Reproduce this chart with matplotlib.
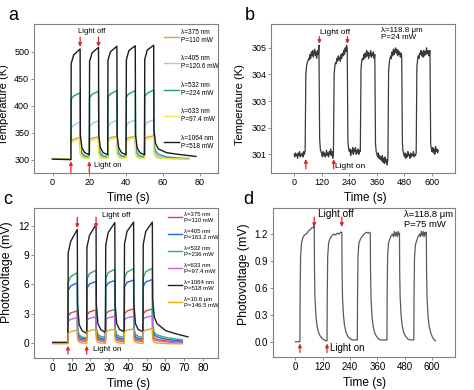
import numpy as np
import matplotlib.pyplot as plt

plt.rcParams['font.family'] = ['Liberation Sans', 'DejaVu Sans']

nan = np.nan

# ---------------- panel a : temperature, visible/NIR lasers ----------------
t_a = [0, 9.95,
       10, 10.15, 11.5, 15, 15.15, 16, 17.5, 19.95,
       20, 20.15, 21.5, 25, 25.15, 26, 27.5, 29.95,
       30, 30.15, 31.5, 35, 35.15, 36, 37.5, 39.95,
       40, 40.15, 41.5, 45, 45.15, 46, 47.5, 49.95,
       50, 50.15, 51.5, 55, 55.15, 56, 57.5, 62, 68, 74, 78]

T_375 = [301, 301,
         301, 335, 338, 341, 312, 305, 303, 302.5,
         302.5, 337, 340, 342, 312, 305, 303, 302.5,
         302.5, 338, 341, 343, 312, 305, 303, 302.5,
         302.5, 338, 341, 343, 312, 305, 303, 302.5,
         302.5, 339, 342, 344, 314, 306, 303.5, 302.5, 301.5, 301, nan]
T_405 = [301, 301,
         301, 358, 364, 370, 318, 308, 305, 303.5,
         303.5, 361, 367, 372, 318, 308, 305, 303.5,
         303.5, 362, 368, 373, 318, 308, 305, 303.5,
         303.5, 362, 369, 373, 318, 308, 305, 303.5,
         303.5, 363, 369, 374, 320, 310, 306, 304, 302.5, 302, nan]
T_532 = [301, 301,
         301, 412, 418, 424, 325, 312, 307, 305,
         305, 415, 421, 427, 325, 312, 307, 305,
         305, 416, 422, 428, 325, 312, 307, 305,
         305, 416, 422, 428, 325, 312, 307, 305,
         305, 417, 423, 429, 330, 316, 310, 305, 303, 302, nan]
T_633 = [301, 301,
         301, 330, 334, 338, 310, 304, 302.5, 302,
         302, 332, 336, 340, 310, 304, 302.5, 302,
         302, 333, 337, 341, 310, 304, 302.5, 302,
         302, 333, 337, 341, 310, 304, 302.5, 302,
         302, 334, 338, 342, 312, 305, 303, 302, 301.5, 301, nan]
T_1064 = [301, 300,
          300, 478, 494, 505, 345, 322, 313, 309,
          309, 482, 498, 508, 345, 322, 313, 309,
          309, 484, 500, 510, 345, 322, 313, 309,
          309, 485, 502, 511, 345, 322, 313, 309,
          309, 486, 503, 512, 355, 330, 320, 313, 310, 307.5, 306]
labels_a = ['λ=375 nm\nP=110 mW', 'λ=405 nm\nP=120.6 mW', 'λ=532 nm\nP=224 mW',
            'λ=633 nm\nP=97.4 mW', 'λ=1064 nm\nP=518 mW']
colors_a = ['#dba72a', '#9fcbea', '#1f9e8a', '#f3e552', '#1a1a1a']

# ---------------- panel b : temperature, THz 118.8 um ----------------
t_b = np.arange(0, 628, 3)
T_thz = [301.0, 300.9, 301.05, 300.95, 301.0, 300.85, 301.05, 300.95, 301.1, 300.9,
         301.0, 300.95, 301.05, 300.9, 301.1, 301.0, 301.15, 304.0, 304.3, 304.45,
         304.5, 304.6, 304.55, 304.75, 304.6, 304.85, 304.7, 304.9, 304.65, 304.8,
         304.95, 304.7, 304.85, 304.6, 304.9, 304.75, 305.1, 301.6, 301.2, 301.1,
         301.0, 300.9, 301.1, 300.95, 301.05, 300.9, 301.0, 301.15, 300.95, 301.05,
         300.9, 301.1, 301.0, 301.2, 300.95, 301.1, 300.85, 301.0, 304.0, 304.3,
         304.45, 304.4, 304.6, 304.5, 304.7, 304.55, 304.65, 304.5, 304.75, 304.6,
         304.8, 304.7, 304.9, 304.75, 305.0, 304.85, 305.1, 305.0, 301.5, 301.2,
         301.1, 301.2, 300.95, 301.15, 301.05, 301.25, 301.0, 301.2, 301.1, 301.25,
         301.0, 301.15, 301.05, 301.2, 301.0, 301.15, 301.1, 304.2, 304.5, 304.6,
         304.55, 304.75, 304.6, 304.8, 304.65, 304.9, 304.7, 304.85, 304.6, 304.8,
         304.7, 304.9, 304.65, 304.8, 304.7, 304.85, 304.6, 304.75, 301.4, 301.1,
         301.0, 300.9, 301.05, 300.85, 300.95, 300.8, 300.9, 300.75, 300.95, 300.7,
         300.85, 300.65, 300.9, 300.7, 300.8, 300.6, 300.85, 304.1, 304.45, 304.6,
         304.7, 304.6, 304.85, 304.7, 304.95, 304.75, 304.9, 305.0, 304.8, 304.95,
         304.7, 304.9, 304.75, 304.85, 304.65, 304.8, 304.7, 301.4, 301.1, 301.0,
         300.9, 301.05, 300.85, 301.0, 300.9, 301.1, 300.95, 301.0, 300.85, 301.05,
         300.9, 301.0, 300.95, 301.1, 300.9, 301.0, 300.95, 301.05, 304.3, 304.55,
         304.7, 304.6, 304.8, 304.75, 304.9, 304.7, 304.85, 304.65, 304.9, 304.7,
         304.85, 304.75, 305.0, 304.8, 304.9, 304.7, 304.85, 304.9, 301.4, 301.2,
         301.1, 301.25, 301.05, 301.2, 301.0, 301.3, 301.1, 301.2, 301.05, 301.15]

# ---------------- panel c : photovoltage, lasers ----------------
t_c = [0, 7.95,
       8, 8.15, 9.5, 13, 13.15, 14, 15.5, 17.95,
       18, 18.15, 19.5, 23, 23.15, 24, 25.5, 27.95,
       28, 28.15, 29.5, 33, 33.15, 34, 35.5, 37.95,
       38, 38.15, 39.5, 43, 43.15, 44, 45.5, 47.95,
       48, 48.15, 49.5, 53, 53.15, 54, 55.5, 60, 65, 69, 72]

V_375 = [0, 0,
         0, 2.8, 3.1, 3.3, 0.9, 0.45, 0.35, 0.3,
         0.3, 2.9, 3.2, 3.4, 0.9, 0.45, 0.35, 0.3,
         0.3, 2.95, 3.25, 3.45, 0.9, 0.45, 0.35, 0.3,
         0.3, 3.0, 3.3, 3.5, 0.9, 0.45, 0.35, 0.3,
         0.3, 3.0, 3.3, 3.5, 1.0, 0.55, 0.4, 0.25, 0.15, 0.1, nan]
V_405 = [0, 0,
         0, 5.4, 5.85, 6.15, 1.3, 0.65, 0.5, 0.42,
         0.42, 5.6, 6.05, 6.3, 1.3, 0.65, 0.5, 0.42,
         0.42, 5.7, 6.15, 6.4, 1.3, 0.65, 0.5, 0.42,
         0.42, 5.75, 6.2, 6.45, 1.3, 0.65, 0.5, 0.42,
         0.42, 5.8, 6.25, 6.5, 1.5, 0.85, 0.65, 0.42, 0.3, 0.22, nan]
V_532 = [0, 0,
         0, 6.2, 6.8, 7.2, 1.5, 0.85, 0.65, 0.55,
         0.55, 6.5, 7.1, 7.45, 1.6, 0.9, 0.7, 0.6,
         0.6, 6.6, 7.2, 7.55, 1.6, 0.9, 0.7, 0.6,
         0.6, 6.65, 7.25, 7.6, 1.6, 0.9, 0.7, 0.6,
         0.6, 6.7, 7.3, 7.65, 1.8, 1.1, 0.85, 0.6, 0.45, 0.35, nan]
V_633 = [0, 0,
         0, 2.25, 2.45, 2.6, 0.7, 0.3, 0.22, 0.18,
         0.18, 2.35, 2.55, 2.7, 0.7, 0.3, 0.22, 0.18,
         0.18, 2.4, 2.6, 2.75, 0.7, 0.3, 0.22, 0.18,
         0.18, 2.4, 2.6, 2.75, 0.7, 0.3, 0.22, 0.18,
         0.18, 2.45, 2.65, 2.8, 0.8, 0.35, 0.25, 0.15, 0.08, 0.05, nan]
V_1064 = [0.1, 0.1,
          0.1, 9.2, 10.4, 11.6, 4.0, 1.9, 1.3, 1.0,
          1.0, 9.8, 11.0, 12.1, 4.0, 2.0, 1.4, 1.1,
          1.1, 10.0, 11.3, 12.3, 4.0, 2.0, 1.4, 1.2,
          1.2, 10.1, 11.4, 12.35, 4.0, 2.0, 1.4, 1.2,
          1.2, 10.1, 11.4, 12.35, 4.5, 2.7, 2.0, 1.3, 1.0, 0.8, 0.65]
V_10um = [-0.05, -0.05,
          -0.05, 1.0, 1.2, 1.35, 0.35, 0.1, 0.03, 0.0,
          0.0, 1.1, 1.3, 1.4, 0.35, 0.1, 0.03, 0.0,
          0.0, 1.15, 1.3, 1.45, 0.35, 0.1, 0.03, 0.0,
          0.0, 1.15, 1.35, 1.45, 0.35, 0.1, 0.03, 0.0,
          0.0, 1.2, 1.35, 1.5, 0.4, 0.1, 0.03, -0.03, -0.05, -0.05, nan]
labels_c = ['λ=375 nm\nP=110 mW', 'λ=405 nm\nP=163.2 mW', 'λ=532 nm\nP=236 mW',
            'λ=633 nm\nP=97.4 mW', 'λ=1064 nm\nP=518 mW', 'λ=10.6 μm\nP=146.5 mW']
colors_c = ['#e8413c', '#2262d2', '#2eaa80', '#b46ad8', '#222222', '#e6a817']

# ---------------- panel d : photovoltage, THz 118.8 um ----------------
t_d = [0, 10, 19,
       20, 21, 23, 27, 33, 40, 47, 54, 60, 66, 72, 78, 83,
       84, 86, 90, 95, 102, 110, 120, 130, 138,
       139, 140, 142, 146, 152, 160, 168, 176, 184, 192, 198, 204,
       205, 207, 211, 216, 223, 231, 241, 251, 271,
       272, 273, 275, 279, 285, 292, 299, 306, 313, 320, 325, 329,
       330, 332, 336, 341, 348, 356, 366, 376, 401,
       402, 403, 405, 409, 415, 421, 427, 431, 435, 439, 443, 447, 451, 454, 457,
       458, 460, 464, 469, 476, 484, 494, 504, 519,
       520, 521, 523, 527, 533, 539, 545, 549, 553, 557, 561, 565, 569, 572, 575,
       576, 578, 582, 587, 594, 602, 610, 615]
V_thz = [0.0, 0.0, 0.0,
         0.0, 0.55, 0.95, 1.1, 1.16, 1.19, 1.2, 1.22, 1.24, 1.25, 1.27, 1.27, 1.3,
         0.8, 0.5, 0.3, 0.18, 0.1, 0.06, 0.03, 0.015, 0.01,
         0.01, 0.5, 0.95, 1.1, 1.15, 1.18, 1.2, 1.19, 1.21, 1.2, 1.22, 1.22,
         0.8, 0.5, 0.3, 0.18, 0.1, 0.06, 0.03, 0.02, 0.02,
         0.02, 0.5, 0.95, 1.1, 1.14, 1.17, 1.19, 1.21, 1.22, 1.21, 1.22, 1.21,
         0.8, 0.5, 0.3, 0.18, 0.1, 0.06, 0.03, 0.02, 0.02,
         0.02, 0.5, 0.95, 1.1, 1.15, 1.18, 1.2, 1.17, 1.23, 1.18, 1.22, 1.17, 1.23, 1.19, 1.21,
         0.8, 0.5, 0.3, 0.18, 0.1, 0.06, 0.03, 0.02, 0.02,
         0.02, 0.5, 0.93, 1.08, 1.13, 1.17, 1.2, 1.17, 1.23, 1.18, 1.23, 1.17, 1.22, 1.19, 1.22,
         0.8, 0.5, 0.3, 0.18, 0.1, 0.05, 0.02, 0.01]

RED = '#e8202a'
GREY = '#808080'


def style(ax, fs):
    for s in ax.spines.values():
        s.set_color(GREY)
        s.set_linewidth(0.8)
    ax.tick_params(direction='out', length=2, width=0.6, color=GREY,
                   labelsize=fs, pad=1.5)


def arrow(ax, x, y_from, y_to):
    ax.annotate('', xy=(x, y_to), xytext=(x, y_from),
                arrowprops=dict(arrowstyle='-|>', color=RED, lw=0.9,
                                mutation_scale=5, shrinkA=0, shrinkB=0))


fig = plt.figure(figsize=(4.74, 3.90), dpi=100)

# ---- a ----
ax = fig.add_axes([0.072, 0.556, 0.388, 0.382])
for y, c, lab in zip([T_375, T_405, T_532, T_633, T_1064], colors_a, labels_a):
    ax.plot(t_a, y, color=c, lw=1.0, label=lab)
ax.set_xlim(-10, 90)
ax.set_ylim(275, 551)
ax.set_xticks([0, 20, 40, 60, 80])
ax.set_yticks([300, 350, 400, 450, 500])
style(ax, 6.5)
ax.set_ylabel('Temperature (K)', fontsize=8)
ax.yaxis.set_label_coords(-0.135, 0.46)
ax.set_xlabel('Time (s)', fontsize=8.4)
ax.xaxis.set_label_coords(0.51, -0.125)
ax.legend(loc='upper left', bbox_to_anchor=(0.69, 0.985), frameon=False,
          fontsize=4.7, handlelength=2.4, handletextpad=0.3, labelspacing=1.75,
          borderaxespad=0)
ax.text(21.3, 537, 'Light off', fontsize=5.5, ha='center', va='center')
for x in [15, 25]:
    arrow(ax, x, 527, 509)
for x in [10, 20]:
    arrow(ax, x, 276, 297)
ax.text(22.5, 289, 'Light on', fontsize=5.5, ha='left', va='center')
fig.text(8 / 474, 1 - 16 / 390, 'a', fontsize=13, ha='left', va='center')

# ---- b ----
ax = fig.add_axes([0.572, 0.556, 0.388, 0.382])
ax.plot(t_b, T_thz, color='#3a3a3a', lw=0.9)
ax.set_xlim(-100, 700)
ax.set_ylim(300.29, 305.89)
ax.set_xticks([0, 120, 240, 360, 480, 600])
ax.set_yticks([301, 302, 303, 304, 305])
style(ax, 6.5)
ax.set_ylabel('Temperature (K)', fontsize=8)
ax.yaxis.set_label_coords(-0.14, 0.46)
ax.set_xlabel('Time (s)', fontsize=8.4)
ax.xaxis.set_label_coords(0.51, -0.125)
ax.text(177, 305.58, 'Light off', fontsize=6, ha='center', va='center')
for x in [110, 232]:
    arrow(ax, x, 305.42, 305.15)
for x in [51, 172]:
    arrow(ax, x, 300.45, 300.82)
ax.text(180, 300.55, 'Light on', fontsize=6, ha='left', va='center')
ax.text(378, 305.8, 'λ=118.8 μm\nP=24 mW', fontsize=5.8, ha='left', va='top',
        linespacing=1.15)
fig.text(245 / 474, 1 - 16 / 390, 'b', fontsize=13, ha='left', va='center')

# ---- c ----
ax = fig.add_axes([0.072, 0.082, 0.388, 0.385])
for y, c, lab in zip([V_375, V_405, V_532, V_633, V_1064, V_10um], colors_c, labels_c):
    ax.plot(t_c, y, color=c, lw=1.0, label=lab)
ax.set_xlim(-10, 88)
ax.set_ylim(-1.5, 13.8)
ax.set_xticks(range(0, 81, 10))
ax.set_yticks([0, 3, 6, 9, 12])
style(ax, 7.3)
ax.set_ylabel('Photovoltage (mV)', fontsize=8.8)
ax.yaxis.set_label_coords(-0.115, 0.573)
ax.set_xlabel('Time (s)', fontsize=8.6)
ax.xaxis.set_label_coords(0.515, -0.131)
ax.legend(loc='upper left', bbox_to_anchor=(0.715, 0.99), frameon=False,
          fontsize=4.3, handlelength=2.4, handletextpad=0.3, labelspacing=1.05,
          borderaxespad=0)
ax.text(26.2, 13.05, 'Light off', fontsize=5.8, ha='left', va='center')
for x in [13, 23]:
    arrow(ax, x, 12.85, 11.75)
for x in [8, 18]:
    arrow(ax, x, -1.1, -0.25)
ax.text(21.4, -0.67, 'Light on', fontsize=5.8, ha='left', va='center')
fig.text(3 / 474, 1 - 199 / 390, 'c', fontsize=13, ha='left', va='center')

# ---- d ----
ax = fig.add_axes([0.576, 0.0846, 0.384, 0.382])
ax.plot(t_d, V_thz, color='#5a5a5a', lw=0.9)
ax.set_xlim(-98, 701)
ax.set_ylim(-0.17, 1.49)
ax.set_xticks([0, 120, 240, 360, 480, 600])
ax.set_yticks([0.0, 0.3, 0.6, 0.9, 1.2])
ax.yaxis.set_major_formatter(plt.FormatStrFormatter('%.1f'))
style(ax, 7)
ax.set_ylabel('Photovoltage (mV)', fontsize=8.8)
ax.yaxis.set_label_coords(-0.126, 0.557)
ax.set_xlabel('Time (s)', fontsize=8.6)
ax.xaxis.set_label_coords(0.505, -0.132)
ax.text(178, 1.42, 'Light off', fontsize=7.2, ha='center', va='center')
for x in [83, 204]:
    arrow(ax, x, 1.39, 1.28)
for x in [20, 139]:
    arrow(ax, x, -0.12, -0.02)
ax.text(150, -0.074, 'Light on', fontsize=7, ha='left', va='center')
ax.text(478, 1.47, 'λ=118.8 μm\nP=75 mW', fontsize=6.8, ha='left', va='top',
        linespacing=1.1)
fig.text(243 / 474, 1 - 199 / 390, 'd', fontsize=13, ha='left', va='center')

fig.savefig('out.png', dpi=100)
